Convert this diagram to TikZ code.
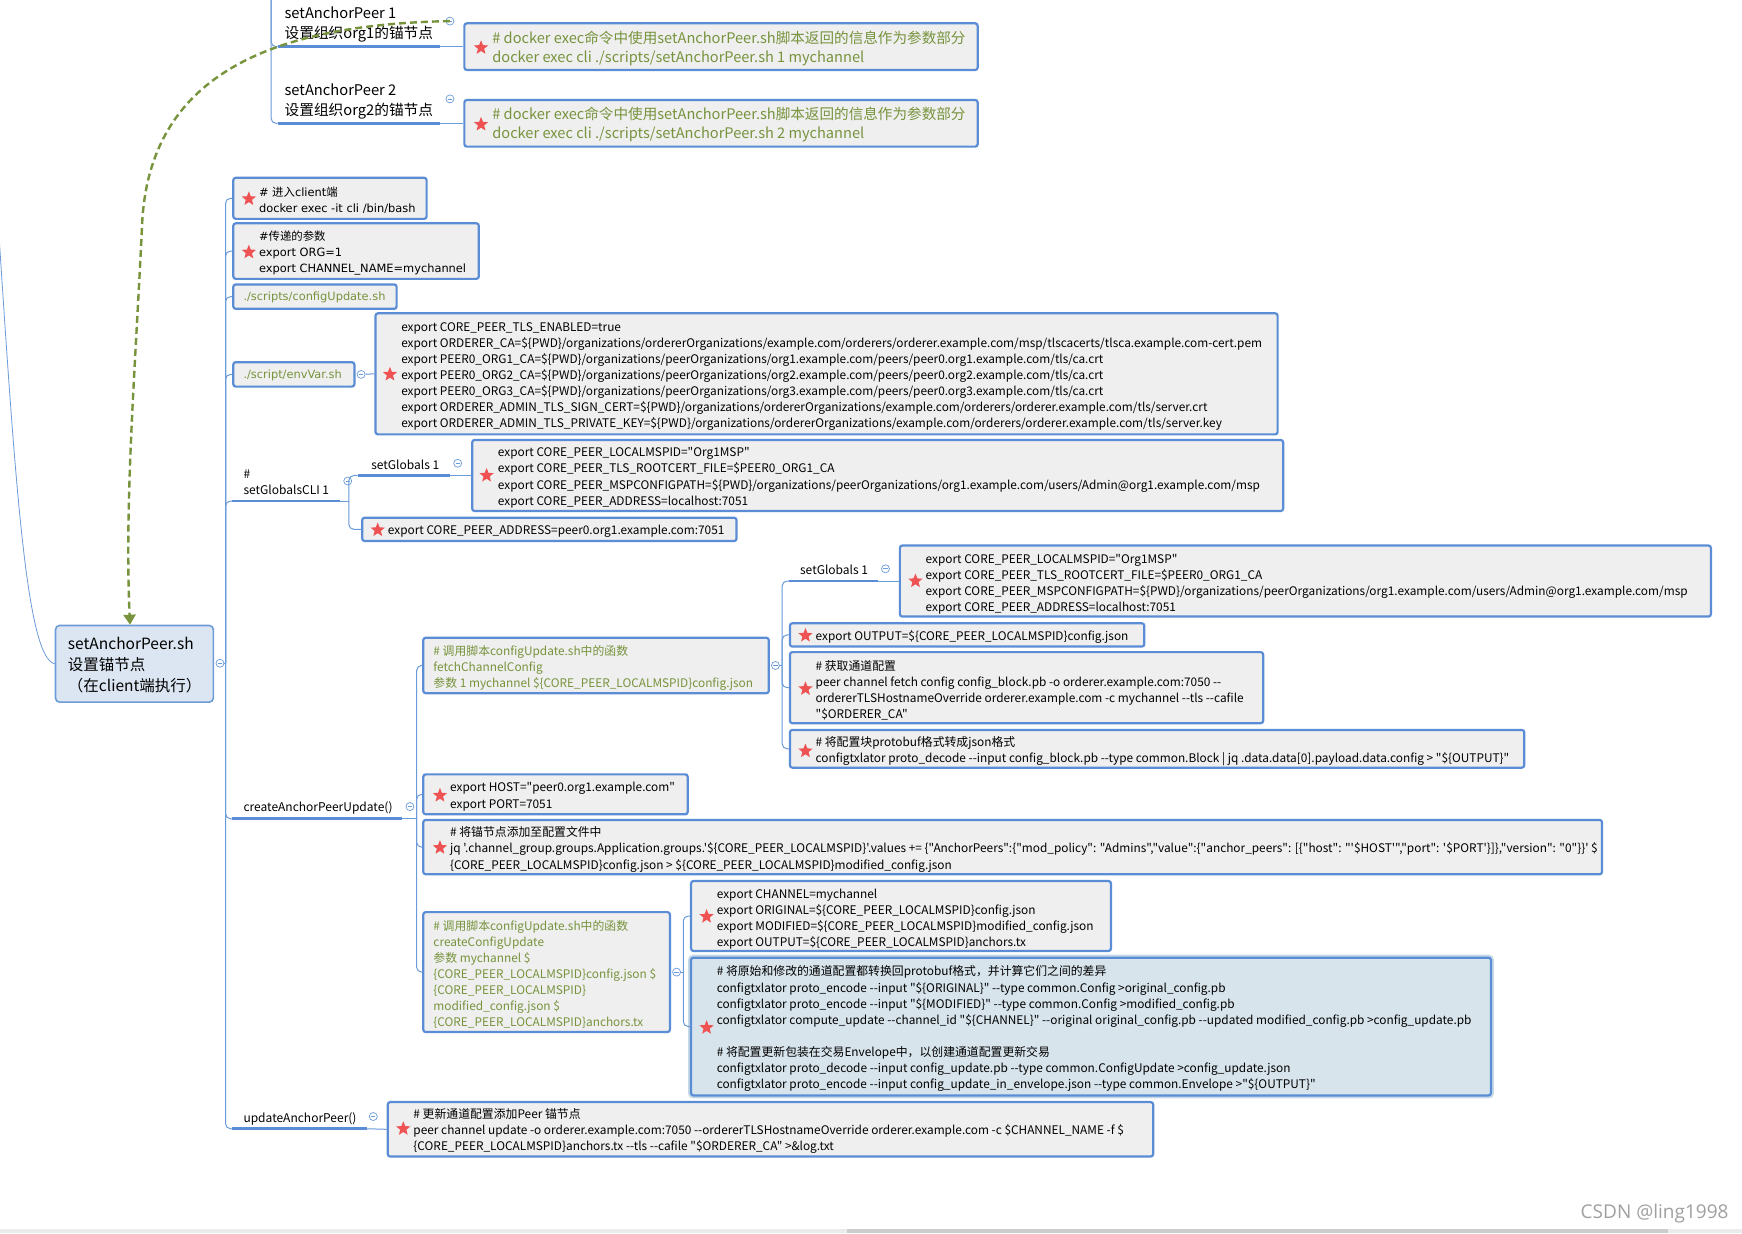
\documentclass[tikz,border=0pt]{standalone}
\usepackage{fontspec}
\usepackage{tikz}
\usetikzlibrary{positioning, arrows.meta, shapes.geometric, fit}
\newfontfamily\noto{Noto Sans CJK SC}
\newfontfamily\dejavu{DejaVu Sans}
\newfontfamily\opensans{Open Sans}
\definecolor{boxline}{HTML}{5B8DD6}
\definecolor{boxfill}{HTML}{EFEFEF}
\definecolor{linec}{HTML}{6B9BDA}
\definecolor{rootfill}{HTML}{DCE6F2}
\definecolor{rootline}{HTML}{6E9CD8}
\definecolor{codegreen}{HTML}{77933C}
\definecolor{starred}{HTML}{EE5252}
\definecolor{hifill}{HTML}{D8E4EC}
\definecolor{higlow}{HTML}{C5D8E6}
\definecolor{wmgray}{HTML}{A0A0A0}
\newcommand\codefont{\noto\fontsize{11.85}{16.1}\selectfont}
\newcommand\shellfont{\dejavu\fontsize{11.4}{16}\selectfont}
\newcommand\topicfont{\noto\fontsize{14.7}{20}\selectfont}
\newcommand\notefont{\noto\fontsize{14.6}{19.4}\selectfont}
\newcommand\rootfont{\noto\fontsize{15.5}{21}\selectfont}
\newcommand\labelfont{\noto\fontsize{12}{15.5}\selectfont}
\tikzset{
  box/.style={draw=boxline, line width=2.2pt, fill=boxfill, rounded corners=2.5pt, inner sep=0pt},
  hibox/.style={box, fill=hifill, preaction={draw=higlow, line width=6pt}},
  rootbox/.style={draw=rootline, line width=1.6pt, fill=rootfill, rounded corners=4pt, inner sep=0pt},
  codetxt/.style={anchor=west, align=left, inner sep=0pt, yshift=-1.7pt, font=\codefont},
  greentxt/.style={codetxt, text=codegreen},
  shelltxt/.style={anchor=west, align=left, inner sep=0pt, yshift=-1.2pt, font=\shellfont},
  notetxt/.style={anchor=west, align=left, inner sep=0pt, yshift=-1.2pt, font=\notefont, text=codegreen},
  topictxt/.style={anchor=west, align=left, inner sep=0pt, yshift=-2pt, font=\topicfont},
  labeltxt/.style={anchor=west, align=left, inner sep=0pt, yshift=-1.2pt, font=\labelfont},
  redstar/.style={star, star points=5, star point ratio=2.3, fill=starred, minimum size=15pt, inner sep=0pt},
  fold/.style={circle, draw=linec, line width=0.7pt, fill=white, minimum size=8pt, inner sep=0pt,
    path picture={\draw[linec, line width=0.7pt] ([xshift=-2.2pt]path picture bounding box.center) -- ([xshift=2.2pt]path picture bounding box.center);}},
  branch/.style={draw=linec, line width=1pt, rounded corners=5pt},
  under/.style={draw=boxline, line width=2.6pt},
  linkarrow/.style={draw=codegreen, line width=2.4pt, dash pattern=on 7pt off 4pt, -{Triangle[length=10pt,width=12pt]}}
}
\begin{document}
\begin{tikzpicture}[x=1.111pt, y=-1.111pt]
\path[use as bounding box, fill=white] (0,0) rectangle (1568,1110);
% scroll bar at the bottom
\fill[black!8] (0,1106) rectangle (1568,1110);
\fill[black!20] (762,1106) rectangle (1501,1110);

% top branch, parent cut off above
\coordinate (topin) at (244,-4);
\coordinate (tp1L) at (250,42);
\coordinate (tp1R) at (396,42);
\coordinate (tp2L) at (250,111);
\coordinate (tp2R) at (396,111);
\draw[branch] (topin) |- (tp1L);
\draw[branch] (topin) |- (tp2L);
\node[topictxt] (tp1) at (256,20) {setAnchorPeer 1\\设置组织org1的锚节点};
\node[topictxt] (tp2) at (256,89.5) {setAnchorPeer 2\\设置组织org2的锚节点};
\node[box, fit={(418,21) (880,63)}] (ba1) {};
\node[box, fit={(418,90) (880,132)}] (ba2) {};
\draw[under] (tp1L) -- (tp1R);
\draw[under] (tp2L) -- (tp2R);
\draw[branch] (tp1R) -- (ba1.west);
\draw[branch] (tp2R) -- (ba2.west);
\node[fold] (tp1f) at (405,19) {};
\node[fold] (tp2f) at (405,89) {};
\node[redstar] (s1) at (433,43) {};
\node[redstar] (s2) at (433,112) {};
\node[notetxt] (ba1t) at (443,42.5) {\# docker exec命令中使用setAnchorPeer.sh脚本返回的信息作为参数部分\\docker exec cli ./scripts/setAnchorPeer.sh 1 mychannel};
\node[notetxt] (ba2t) at (443,111) {\# docker exec命令中使用setAnchorPeer.sh脚本返回的信息作为参数部分\\docker exec cli ./scripts/setAnchorPeer.sh 2 mychannel};

% root
\coordinate (up) at (-2,195);
\node[rootbox, fit={(50,563) (192,632)}] (root) {};
\node[anchor=west, align=left, inner sep=0pt, yshift=-1.5pt, font=\rootfont] (roott) at (61,597) {setAnchorPeer.sh\\设置锚节点\\（在client端执行）};
\draw[linec, line width=0.8pt] (up) .. controls (14,440) and (24,592) .. (root.west);
\node[fold] (rootf) at (198,597) {};
\coordinate (hub) at (203,597);
\draw[branch] (rootf) -- (hub);

% first level boxes
\node[box, fit={(210,160) (384,197)}] (bA) {};
\node[box, fit={(210,201) (431,251)}] (bB) {};
\node[box, fit={(210,256) (357,278)}] (bC) {};
\node[box, fit={(210,326) (319,348)}] (bD) {};
\foreach \c in {bA,bB,bC,bD}
  \draw[branch] (hub) |- (\c.west);
\node[redstar] (sA) at (224,179) {};
\node[shelltxt] (bAt) at (233,179) {\# {\noto 进入}client{\noto 端}\\docker exec -it cli /bin/bash};
\node[redstar] (sB) at (224,227) {};
\node[shelltxt] (bBt) at (233,226.5) {\#{\noto 传递的参数}\\export ORG=1\\export CHANNEL\_NAME=mychannel};
\node[shelltxt, text=codegreen] (bCt) at (219,267) {./scripts/configUpdate.sh};
\node[shelltxt, text=codegreen] (bDt) at (219,337) {./script/envVar.sh};
\node[fold] (bDf) at (325,337) {};
\node[box, fit={(338,282) (1150,391)}] (bE) {};
\draw[branch] (bDf) -- (bE.west);
\node[redstar] (sE) at (351,337) {};
\node[codetxt] (bEt) at (361,337.5) {export CORE\_PEER\_TLS\_ENABLED=true\\
export ORDERER\_CA=\$\{PWD\}/organizations/ordererOrganizations/example.com/orderers/orderer.example.com/msp/tlscacerts/tlsca.example.com-cert.pem\\
export PEER0\_ORG1\_CA=\$\{PWD\}/organizations/peerOrganizations/org1.example.com/peers/peer0.org1.example.com/tls/ca.crt\\
export PEER0\_ORG2\_CA=\$\{PWD\}/organizations/peerOrganizations/org2.example.com/peers/peer0.org2.example.com/tls/ca.crt\\
export PEER0\_ORG3\_CA=\$\{PWD\}/organizations/peerOrganizations/org3.example.com/peers/peer0.org3.example.com/tls/ca.crt\\
export ORDERER\_ADMIN\_TLS\_SIGN\_CERT=\$\{PWD\}/organizations/ordererOrganizations/example.com/orderers/orderer.example.com/tls/server.crt\\
export ORDERER\_ADMIN\_TLS\_PRIVATE\_KEY=\$\{PWD\}/organizations/ordererOrganizations/example.com/orderers/orderer.example.com/tls/server.key};

% setGlobalsCLI
\coordinate (cliL) at (209,451);
\coordinate (cliR) at (306,451);
\coordinate (clihub) at (314,451);
\coordinate (sg1L) at (322,428);
\coordinate (sg1R) at (405,428);
\draw[branch] (hub) |- (cliL);
\node[labeltxt] (cli) at (219,433) {\#\\setGlobalsCLI 1};
\draw[under] (cliL) -- (cliR);
\node[fold] (clif) at (313,433) {};
\node[labeltxt] (sg1) at (334,417) {setGlobals 1};
\node[fold] (sg1f) at (412,417) {};
\node[box, fit={(425,396) (1155,460)}] (bF) {};
\node[box, fit={(326,466) (663,487)}] (bG) {};
\draw[branch] (cliR) -- (clihub);
\draw[branch] (clihub) |- (sg1L);
\draw[branch] (clihub) |- (bG.west);
\draw[under] (sg1L) -- (sg1R);
\draw[branch] (sg1R) -- (bF.west);
\node[redstar] (sF) at (438,428) {};
\node[codetxt] (bFt) at (448,428.5) {export CORE\_PEER\_LOCALMSPID="Org1MSP"\\
export CORE\_PEER\_TLS\_ROOTCERT\_FILE=\$PEER0\_ORG1\_CA\\
export CORE\_PEER\_MSPCONFIGPATH=\$\{PWD\}/organizations/peerOrganizations/org1.example.com/users/Admin@org1.example.com/msp\\
export CORE\_PEER\_ADDRESS=localhost:7051};
\node[redstar] (sG) at (340,477) {};
\node[codetxt] (bGt) at (349,477) {export CORE\_PEER\_ADDRESS=peer0.org1.example.com:7051};

% createAnchorPeerUpdate
\coordinate (capL) at (209,737);
\coordinate (capR) at (362,737);
\coordinate (caphub) at (375,737);
\draw[branch] (hub) |- (capL);
\node[labeltxt] (cap) at (219,726) {createAnchorPeerUpdate()};
\draw[under] (capL) -- (capR);
\node[fold] (capf) at (369,726) {};
\node[box, fit={(381,574) (692,624)}] (bH) {};
\node[box, fit={(381,697) (619,733)}] (bI) {};
\node[box, fit={(381,738) (1442,787)}] (bJ) {};
\node[box, fit={(381,821) (603,929)}] (bK) {};
\draw[branch] (capR) -- (caphub);
\foreach \c in {bH,bI,bJ,bK}
  \draw[branch] (caphub) |- (\c.west);
\node[greentxt] (bHt) at (390,599.5) {\# 调用脚本configUpdate.sh中的函数\\fetchChannelConfig\\参数 1 mychannel \$\{CORE\_PEER\_LOCALMSPID\}config.json};
\node[fold] (bHf) at (698,599) {};
\node[redstar] (sI) at (396,716) {};
\node[codetxt] (bIt) at (405,715.5) {export HOST="peer0.org1.example.com"\\export PORT=7051};
\node[redstar] (sJ) at (396,763) {};
\node[codetxt] (bJt) at (405,763) {\# 将锚节点添加至配置文件中\\
jq '.channel\_group.groups.Application.groups.'\$\{CORE\_PEER\_LOCALMSPID\}'.values += \{"AnchorPeers":\{"mod\_policy": "Admins","value":\{"anchor\_peers": [\{"host": "'\$HOST'","port": '\$PORT'\}]\},"version": "0"\}\}' \$\\
\{CORE\_PEER\_LOCALMSPID\}config.json > \$\{CORE\_PEER\_LOCALMSPID\}modified\_config.json};
\node[greentxt] (bKt) at (390,875.5) {\# 调用脚本configUpdate.sh中的函数\\createConfigUpdate\\参数 mychannel \$\\\{CORE\_PEER\_LOCALMSPID\}config.json \$\\\{CORE\_PEER\_LOCALMSPID\}\\modified\_config.json \$\\\{CORE\_PEER\_LOCALMSPID\}anchors.tx};
\node[fold] (bKf) at (609,875) {};

% fetchChannelConfig children
\coordinate (bHhub) at (704,599);
\coordinate (sg2L) at (710,523);
\coordinate (sg2R) at (790,523);
\node[labeltxt] (sg2) at (720,512) {setGlobals 1};
\node[fold] (sg2f) at (797,512) {};
\node[box, fit={(810,491) (1540,555)}] (bL) {};
\node[box, fit={(711,561) (1030,582)}] (bM) {};
\node[box, fit={(711,587) (1137,651)}] (bN) {};
\node[box, fit={(711,657) (1372,691)}] (bO) {};
\draw[branch] (bHf) -- (bHhub);
\draw[branch] (bHhub) |- (sg2L);
\foreach \c in {bM,bN,bO}
  \draw[branch] (bHhub) |- (\c.west);
\draw[under] (sg2L) -- (sg2R);
\draw[branch] (sg2R) -- (bL.west);
\node[redstar] (sL) at (824,523) {};
\node[codetxt] (bLt) at (833,524.5) {export CORE\_PEER\_LOCALMSPID="Org1MSP"\\
export CORE\_PEER\_TLS\_ROOTCERT\_FILE=\$PEER0\_ORG1\_CA\\
export CORE\_PEER\_MSPCONFIGPATH=\$\{PWD\}/organizations/peerOrganizations/org1.example.com/users/Admin@org1.example.com/msp\\
export CORE\_PEER\_ADDRESS=localhost:7051};
\node[redstar] (sM) at (725,572) {};
\node[codetxt] (bMt) at (734,572) {export OUTPUT=\$\{CORE\_PEER\_LOCALMSPID\}config.json};
\node[redstar] (sN) at (725,620) {};
\node[codetxt] (bNt) at (734,620) {\# 获取通道配置\\
peer channel fetch config config\_block.pb -o orderer.example.com:7050 --\\
ordererTLSHostnameOverride orderer.example.com -c mychannel --tls --cafile\\
"\$ORDERER\_CA"};
\node[redstar] (sO) at (725,676) {};
\node[codetxt] (bOt) at (734,675) {\# 将配置块protobuf格式转成json格式\\
configtxlator proto\_decode --input config\_block.pb --type common.Block | jq .data.data[0].payload.data.config > "\$\{OUTPUT\}"};

% createConfigUpdate children
\coordinate (bKhub) at (615,875);
\node[box, fit={(622,793) (1000,856)}] (bP) {};
\node[hibox, fit={(622,862) (1342,986)}] (bQ) {};
\draw[branch] (bKf) -- (bKhub);
\draw[branch] (bKhub) |- (bP.west);
\draw[branch] (bKhub) |- (bQ.west);
\node[redstar] (sP) at (636,825) {};
\node[codetxt] (bPt) at (645,825.5) {export CHANNEL=mychannel\\
export ORIGINAL=\$\{CORE\_PEER\_LOCALMSPID\}config.json\\
export MODIFIED=\$\{CORE\_PEER\_LOCALMSPID\}modified\_config.json\\
export OUTPUT=\$\{CORE\_PEER\_LOCALMSPID\}anchors.tx};
\node[redstar] (sQ) at (636,925) {};
\node[codetxt] (bQt) at (645,924.5) {\# 将原始和修改的通道配置都转换回protobuf格式，并计算它们之间的差异\\
configtxlator proto\_encode --input "\$\{ORIGINAL\}" --type common.Config >original\_config.pb\\
configtxlator proto\_encode --input "\$\{MODIFIED\}" --type common.Config >modified\_config.pb\\
configtxlator compute\_update --channel\_id "\$\{CHANNEL\}" --original original\_config.pb --updated modified\_config.pb >config\_update.pb\\[16.1pt]
\# 将配置更新包装在交易Envelope中，以创建通道配置更新交易\\
configtxlator proto\_decode --input config\_update.pb --type common.ConfigUpdate >config\_update.json\\
configtxlator proto\_encode --input config\_update\_in\_envelope.json --type common.Envelope >"\$\{OUTPUT\}"};

% updateAnchorPeer
\coordinate (uapL) at (209,1016);
\coordinate (uapR) at (330,1016);
\draw[branch] (hub) |- (uapL);
\node[labeltxt] (uap) at (219,1006) {updateAnchorPeer()};
\draw[under] (uapL) -- (uapR);
\node[fold] (uapf) at (336,1005) {};
\node[box, fit={(349,992) (1038,1041)}] (bR) {};
\draw[branch] (uapR) -- (bR.west);
\node[redstar] (sR) at (363,1016) {};
\node[codetxt] (bRt) at (372,1016.5) {\# 更新通道配置添加Peer 锚节点\\
peer channel update -o orderer.example.com:7050 --ordererTLSHostnameOverride orderer.example.com -c \$CHANNEL\_NAME -f \$\\
\{CORE\_PEER\_LOCALMSPID\}anchors.tx --tls --cafile "\$ORDERER\_CA" >\&log.txt};

% dashed link back to the root
\draw[linkarrow] (tp1f.center) .. controls (240,22) and (135,70) .. (128,200) .. controls (122,330) and (112,450) .. ([xshift=-4.4pt]root.north);

\node[anchor=east, inner sep=0pt, font=\opensans\fontsize{19}{22}\selectfont, text=wmgray] (wm) at (1556,1092) {CSDN @ling1998};
\end{tikzpicture}
\end{document}
